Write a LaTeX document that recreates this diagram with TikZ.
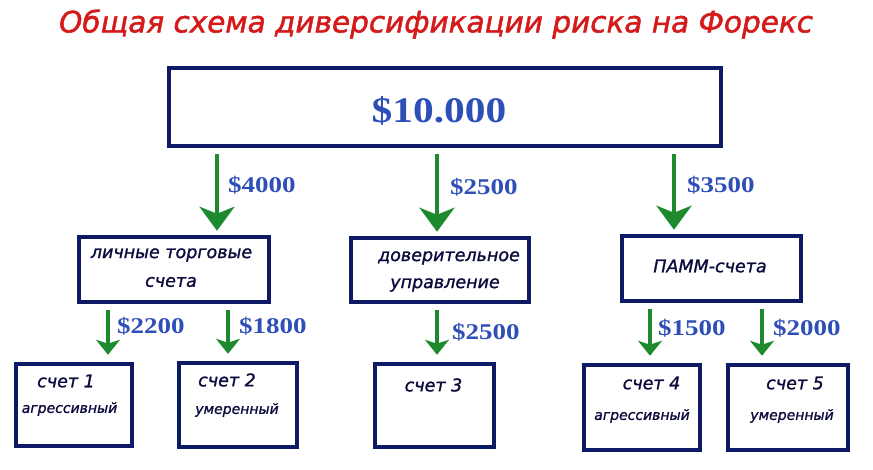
\documentclass[tikz,border=0pt]{standalone}
\usepackage{fontspec}
\usetikzlibrary{arrows.meta}
\setmainfont{Liberation Serif}
\newfontfamily\hand{DejaVu Sans}[FakeBold=1.2]
\newfontfamily\handt{DejaVu Sans}[FakeBold=1.6]
\definecolor{navy}{HTML}{0D1A66}
\definecolor{arrgreen}{HTML}{1E8A2E}
\definecolor{lblblue}{HTML}{2E4FB8}
\definecolor{titlered}{HTML}{D41A1A}
\definecolor{txtnavy}{HTML}{0A0A3C}
\newcommand{\money}[1]{\scalebox{1.2}[1]{\bfseries\fontsize{22.5}{24}\selectfont #1}}
\tikzset{
  x=1pt, y=-1pt,
  boxnode/.style={draw=navy, line width=4.5pt, fill=white, inner sep=0pt},
  bigarrow/.style={draw=arrgreen, line width=4.5pt, -{Stealth[length=24pt,width=35pt,inset=7pt]}},
  smallarrow/.style={draw=arrgreen, line width=3.5pt, -{Stealth[length=15pt,width=24pt,inset=4pt]}},
  amount/.style={text=lblblue, inner sep=0pt, anchor=west},
  bigtxt/.style={text=txtnavy, inner sep=0pt, font=\hand\itshape\fontsize{17.5}{20}\selectfont},
  smalltxt/.style={text=txtnavy, inner sep=0pt, font=\hand\itshape\fontsize{14}{16}\selectfont},
}
\begin{document}
\begin{tikzpicture}
\useasboundingbox[fill=white] (0,0) rectangle (873,469);

% title
\node[text=titlered, inner sep=0pt, font=\handt\itshape\fontsize{29.5}{32}\selectfont] (title) at (436,24) {Общая схема диверсификации риска на Форекс};

% boxes
\node[boxnode, minimum width=552pt, minimum height=78pt] (top) at (445,107) {};
\node[text=lblblue, inner sep=0pt] (topval) at (439,111) {\scalebox{1.15}[1]{\bfseries\fontsize{36}{38}\selectfont \$10.000}};

\node[boxnode, minimum width=190pt, minimum height=65pt] (b1) at (174,269.5) {};
\node[boxnode, minimum width=178pt, minimum height=64pt] (b2) at (440,270) {};
\node[boxnode, minimum width=179pt, minimum height=65pt] (b3) at (711.5,268.5) {};

\node[boxnode, minimum width=116pt, minimum height=82pt] (s1) at (74,405) {};
\node[boxnode, minimum width=118pt, minimum height=84pt] (s2) at (238,405) {};
\node[boxnode, minimum width=119pt, minimum height=83pt] (s3) at (434.5,405.5) {};
\node[boxnode, minimum width=116pt, minimum height=85pt] (s4) at (642,407.5) {};
\node[boxnode, minimum width=120pt, minimum height=85pt] (s5) at (788,407.5) {};

% box texts
\node[bigtxt] (t1a) at (171.5,255) {личные торговые};
\node[bigtxt] (t1b) at (171,282) {счета};
\node[bigtxt] (t2a) at (449,258) {доверительное};
\node[bigtxt] (t2b) at (445,285) {управление};
\node[bigtxt] (t3a) at (710,266) {ПАММ-счета};

\node[bigtxt] (u1a) at (66,381) {счет 1};
\node[smalltxt] (u1b) at (69.5,409) {агрессивный};
\node[bigtxt] (u2a) at (227,380) {счет 2};
\node[smalltxt] (u2b) at (237,410) {умеренный};
\node[bigtxt] (u3a) at (433.5,385) {счет 3};
\node[bigtxt] (u4a) at (651.5,383) {счет 4};
\node[smalltxt] (u4b) at (642,416) {агрессивный};
\node[bigtxt] (u5a) at (795,383) {счет 5};
\node[smalltxt] (u5b) at (792,416) {умеренный};

% arrow columns
\coordinate (c1) at (217,0);
\coordinate (c2) at (437,0);
\coordinate (c3) at (674,0);
\coordinate (d1) at (108,0);
\coordinate (d2) at (228,0);
\coordinate (d3) at (437,0);
\coordinate (d4) at (650,0);
\coordinate (d5) at (762,0);

\draw[bigarrow] ([yshift=-6pt]top.south -| c1) -- ([yshift=4pt]b1.north -| c1);
\draw[bigarrow] ([yshift=-6pt]top.south -| c2) -- ([yshift=4pt]b2.north -| c2);
\draw[bigarrow] ([yshift=-6pt]top.south -| c3) -- ([yshift=4pt]b3.north -| c3);

\draw[smallarrow] ([yshift=-6pt]b1.south -| d1) -- ([yshift=7pt]s1.north -| d1);
\draw[smallarrow] ([yshift=-6pt]b1.south -| d2) -- ([yshift=7pt]s2.north -| d2);
\draw[smallarrow] ([yshift=-6pt]b2.south -| d3) -- ([yshift=7pt]s3.north -| d3);
\draw[smallarrow] ([yshift=-6pt]b3.south -| d4) -- ([yshift=7pt]s4.north -| d4);
\draw[smallarrow] ([yshift=-6pt]b3.south -| d5) -- ([yshift=7pt]s5.north -| d5);

% amounts
\node[amount] (m1) at (228,185) {\money{\$4000}};
\node[amount] (m2) at (450,187) {\money{\$2500}};
\node[amount] (m3) at (687,185) {\money{\$3500}};
\node[amount] (m4) at (117,326) {\money{\$2200}};
\node[amount] (m5) at (239,326) {\money{\$1800}};
\node[amount] (m6) at (452,332) {\money{\$2500}};
\node[amount] (m7) at (658,328) {\money{\$1500}};
\node[amount] (m8) at (773,328) {\money{\$2000}};
\end{tikzpicture}
\end{document}
